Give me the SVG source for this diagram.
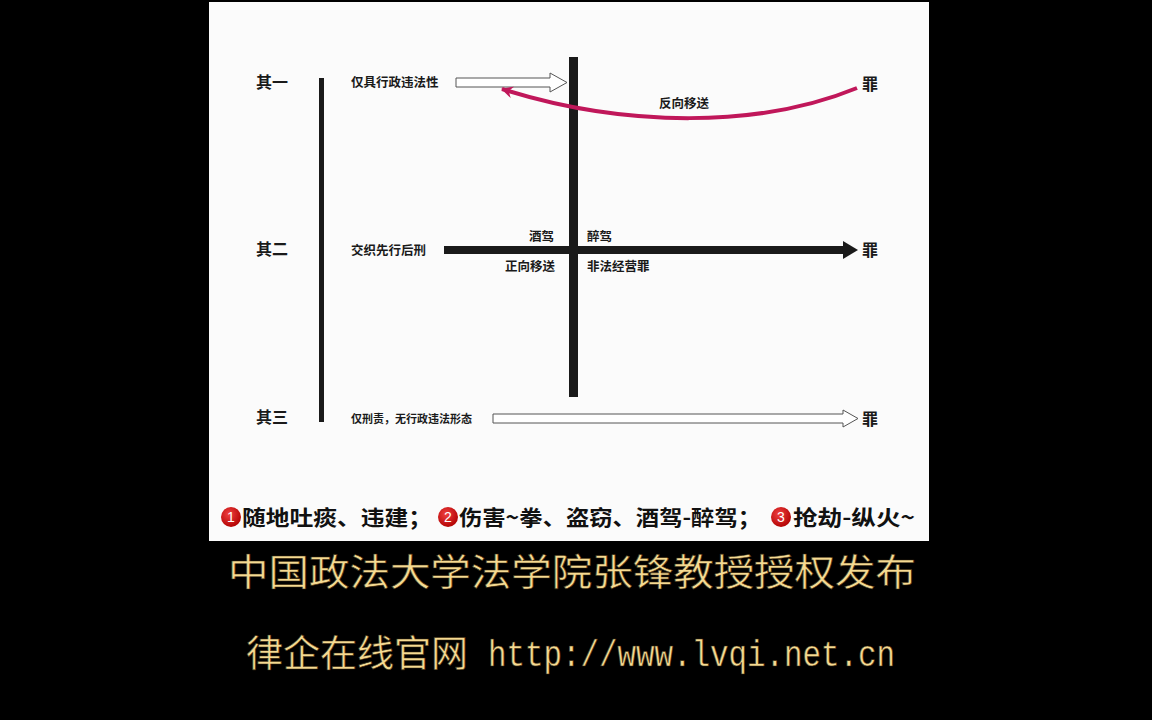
<svg xmlns="http://www.w3.org/2000/svg" width="1152" height="720" viewBox="0 0 1152 720">
<defs>
<style>
.lbl{font-family:"Noto Sans CJK SC","Noto Sans",sans-serif;font-weight:700;fill:#1a1a1a}
.big{font-size:16px}
.mid{font-size:12.5px}
.sm{font-size:11px}
.cap{font-family:"Noto Sans CJK SC","Noto Sans",sans-serif;font-size:37px;fill:#f5da92;stroke:#3a2a10;stroke-width:0.6}
.url{font-family:"Liberation Mono","DejaVu Sans Mono",monospace;font-size:37px;fill:#f5da92;stroke:#3a2a10;stroke-width:0.6}
.note{font-family:"Noto Sans CJK SC","Noto Sans",sans-serif;font-weight:700;font-size:21px;fill:#111}
.num{font-family:"Liberation Sans",sans-serif;font-size:14px;fill:#fff}
.hollow{fill:#fff;stroke:#555;stroke-width:1}
</style>
<marker id="mh" markerWidth="13" markerHeight="12" refX="11" refY="6" orient="auto" markerUnits="userSpaceOnUse">
<path d="M12,6 L0,0 L4,6 L0,12 Z" fill="#c0175a"/>
</marker>
<radialGradient id="rg" cx="0.4" cy="0.35" r="0.7">
<stop offset="0" stop-color="#f04040"/>
<stop offset="1" stop-color="#b00000"/>
</radialGradient>
</defs>
<rect x="0" y="0" width="1152" height="720" fill="#000"/>
<rect x="209" y="2" width="720" height="539" fill="#fbfbfb"/>

<g id="axes">
<rect x="319" y="78" width="5" height="344" fill="#1a1a1a"/>
<rect x="569" y="57" width="9" height="340" fill="#1a1a1a"/>
</g>

<g id="connectors">
<polygon class="hollow" points="456,78 550,78 550,73 567,82.5 550,92 550,87 456,87"/>
<polygon class="hollow" points="493,414 843,414 843,410 858,418.5 843,427 843,423 493,423"/>
<rect x="444" y="246" width="401" height="8" fill="#1a1a1a"/>
<polygon points="843,241 858,250 843,259" fill="#1a1a1a"/>
<path d="M857,88 C760,128 625,128 502,89" fill="none" stroke="#c0175a" stroke-width="4" marker-end="url(#mh)"/>
</g>

<g id="row1">
<text class="lbl big" x="256" y="88">其一</text>
<text class="lbl mid" x="351" y="87">仅具行政违法性</text>
<text class="lbl big" x="862" y="90">罪</text>
<text class="lbl mid" x="659" y="108">反向移送</text>
</g>

<g id="row2">
<text class="lbl big" x="256" y="255">其二</text>
<text class="lbl mid" x="351" y="255">交织先行后刑</text>
<text class="lbl mid" x="529" y="241">酒驾</text>
<text class="lbl mid" x="587" y="241">醉驾</text>
<text class="lbl mid" x="505" y="271">正向移送</text>
<text class="lbl mid" x="587" y="271">非法经营罪</text>
<text class="lbl big" x="862" y="256">罪</text>
</g>

<g id="row3">
<text class="lbl big" x="256" y="423">其三</text>
<text class="lbl sm" x="351" y="423">仅刑责，无行政违法形态</text>
<text class="lbl big" x="862" y="425">罪</text>
</g>

<g id="notes">
<circle cx="231" cy="517" r="10" fill="url(#rg)"/>
<text class="num" x="231" y="522" text-anchor="middle">1</text>
<text class="note" x="242" y="525" textLength="190" lengthAdjust="spacingAndGlyphs">随地吐痰、违建；</text>
<circle cx="448" cy="517" r="10" fill="url(#rg)"/>
<text class="num" x="448" y="522" text-anchor="middle">2</text>
<text class="note" x="459" y="525" textLength="302" lengthAdjust="spacingAndGlyphs">伤害~拳、盗窃、酒驾-醉驾；</text>
<circle cx="781" cy="517" r="10" fill="url(#rg)"/>
<text class="num" x="781" y="522" text-anchor="middle">3</text>
<text class="note" x="793" y="525" textLength="122" lengthAdjust="spacingAndGlyphs">抢劫-纵火~</text>
</g>

<g id="captions">
<text class="cap" x="228" y="586" textLength="688" lengthAdjust="spacingAndGlyphs">中国政法大学法学院张锋教授授权发布</text>
<text class="cap" x="246" y="667" textLength="222" lengthAdjust="spacingAndGlyphs">律企在线官网</text>
<text class="url" x="488" y="666" textLength="407" lengthAdjust="spacingAndGlyphs">http://www.lvqi.net.cn</text>
</g>
</svg>
